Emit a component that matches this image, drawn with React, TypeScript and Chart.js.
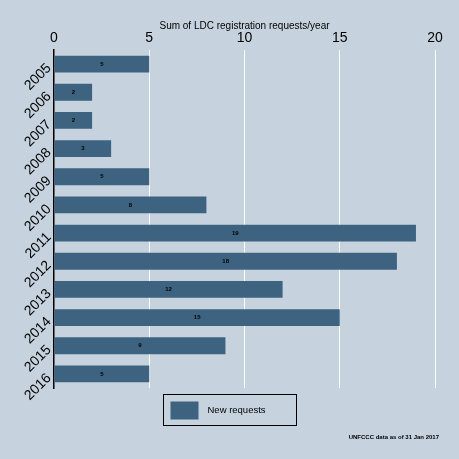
import { useEffect, useRef } from "react"
import { Chart, registerables } from "chart.js"

Chart.register(...registerables)

const years = ["2005", "2006", "2007", "2008", "2009", "2010", "2011", "2012", "2013", "2014", "2015", "2016"]
const newRequests = [5, 2, 2, 3, 5, 8, 19, 18, 12, 15, 9, 5]
const xTicks = [0, 5, 10, 15, 20]
const seriesLabel = "New requests"
const axisTitle = "Sum of LDC registration requests/year"
const sourceNote = "UNFCCC data as of 31 Jan 2017"

const BG = "#c6d3df"
const BAR = "#3d6380"
const FONT = "'Liberation Sans', Arial, sans-serif"

// value text in the middle of each bar
const barValues = {
  id: "barValues",
  afterDatasetsDraw(chart: any) {
    const ctx = chart.ctx
    const meta = chart.getDatasetMeta(0)
    const values = chart.data.datasets[0].data
    ctx.save()
    ctx.fillStyle = "#000"
    ctx.font = `bold 6px ${FONT}`
    ctx.textAlign = "center"
    ctx.textBaseline = "middle"
    meta.data.forEach((bar: any, i: number) => {
      ctx.fillText(String(values[i]), (bar.x + bar.base) / 2, bar.y)
    })
    ctx.restore()
  },
}

// boxed legend under the plot, plus the source note
const legendBox = {
  id: "legendBox",
  afterDraw(chart: any) {
    const ctx = chart.ctx
    const ds = chart.data.datasets[0]
    const w = 133
    const h = 31
    const left = Math.round(chart.width / 2 - w / 2) + 0.5
    const top = Math.round(chart.chartArea.bottom + 6) + 0.5
    ctx.save()
    ctx.strokeStyle = "#000"
    ctx.lineWidth = 1
    ctx.strokeRect(left, top, w, h)
    ctx.fillStyle = ds.backgroundColor
    ctx.fillRect(left + 7, top + 7, 28, 18)
    ctx.fillStyle = "#000"
    ctx.font = `9.5px ${FONT}`
    ctx.textAlign = "left"
    ctx.textBaseline = "middle"
    ctx.fillText(ds.label, left + 44, top + h / 2 + 0.5)

    ctx.font = `bold 6px ${FONT}`
    ctx.textAlign = "right"
    ctx.fillText(sourceNote, chart.width - 20, 437)
    ctx.restore()
  },
}

export default function App() {
  const chartRef = useRef<HTMLCanvasElement>(null)
  const chartInstance = useRef<Chart | null>(null)

  useEffect(() => {
    if (!chartRef.current) return
    if (chartInstance.current) chartInstance.current.destroy()

    const ctx = chartRef.current.getContext("2d")
    if (!ctx) return

    chartInstance.current = new Chart(ctx, {
      type: "bar",
      data: {
        labels: years,
        datasets: [
          {
            label: seriesLabel,
            data: newRequests,
            backgroundColor: BAR,
            borderWidth: 0,
            barPercentage: 0.6,
            categoryPercentage: 1,
          },
        ],
      },
      options: {
        indexAxis: "y",
        animation: false,
        responsive: true,
        maintainAspectRatio: false,
        layout: { padding: { top: 12, left: 0, right: 24, bottom: 71 } },
        plugins: {
          legend: { display: false },
          tooltip: { enabled: false },
        },
        scales: {
          x: {
            type: "linear",
            position: "top",
            min: xTicks[0],
            max: xTicks[xTicks.length - 1],
            afterBuildTicks: (scale: any) => {
              scale.ticks = xTicks.map((v) => ({ value: v }))
            },
            afterFit: (scale: any) => {
              scale.height = 38
            },
            ticks: {
              color: "#000",
              font: { family: FONT, size: 14 },
              padding: 3,
            },
            grid: {
              drawTicks: false,
              lineWidth: 1,
              color: (c: any) => (c.tick && c.tick.value === 0 ? "rgba(0,0,0,0)" : "#ffffff"),
            },
            border: { display: false },
            title: {
              display: true,
              text: axisTitle,
              color: "#000",
              font: { family: FONT, size: 10 },
              padding: { top: 8, bottom: 0 },
            },
          },
          y: {
            type: "category",
            afterFit: (scale: any) => {
              scale.width = 54
            },
            ticks: {
              color: "#000",
              font: { family: FONT, size: 14 },
              minRotation: 45,
              maxRotation: 45,
              padding: 5,
              labelOffset: 2,
            },
            grid: { display: false, drawTicks: false },
            border: { display: true, color: "#000", width: 1.5 },
          },
        },
      },
      plugins: [barValues, legendBox],
    })

    return () => {
      if (chartInstance.current) {
        chartInstance.current.destroy()
        chartInstance.current = null
      }
    }
  }, [])

  return (
    <div
      style={{
        position: "fixed",
        left: 0,
        top: 0,
        width: 459,
        height: 459,
        background: BG,
      }}
    >
      <canvas ref={chartRef} />
    </div>
  )
}
